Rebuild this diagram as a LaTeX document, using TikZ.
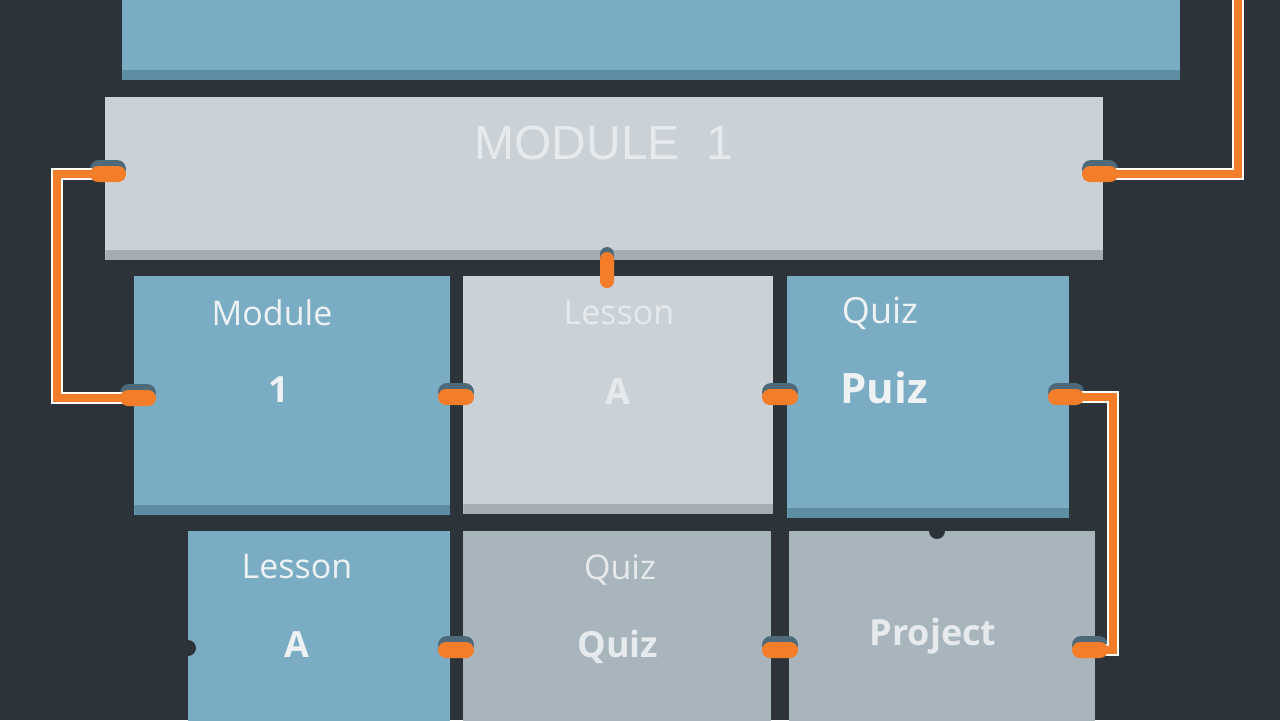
\documentclass[tikz,border=0pt]{standalone}
\usepackage{fontspec}
\setmainfont{Open Sans}
\newfontfamily\bannerfont{Liberation Sans}
\usepackage{tikz}
\usetikzlibrary{positioning, calc, shapes.misc}

\definecolor{bgdark}{HTML}{2C343A}
\definecolor{tileblue}{HTML}{7AADC3}
\definecolor{tileblueD}{HTML}{5C8DA3}
\definecolor{tilelight}{HTML}{CBD2D7}
\definecolor{tilelightD}{HTML}{A3ADB2}
\definecolor{tilemid}{HTML}{A9B5BC}
\definecolor{wireorange}{HTML}{F47D2A}
\definecolor{capslate}{HTML}{4E6A7A}
\definecolor{txtlight}{HTML}{EEF2F4}
\definecolor{txtfaint}{HTML}{E6EAED}

\tikzset{
  tile/.style 2 args={rectangle, inner sep=0pt, anchor=north west, fill=#1,
    path picture={\fill[#2] (path picture bounding box.south west)
      rectangle ([yshift=5pt]path picture bounding box.south east);}},
  lbl/.style={text=txtlight, inner sep=0pt, font=\fontsize{17}{20}\selectfont},
  big/.style={lbl, font=\bfseries\fontsize{18}{22}\selectfont},
  wire/.style={draw=white, line width=0.9pt, double=wireorange,
    double distance=3.8pt},
  pill/.style={rounded rectangle, fill=wireorange, inner sep=0pt,
    minimum width=18pt, minimum height=8pt},
  pillcap/.style={rounded rectangle, fill=capslate, inner sep=0pt,
    minimum width=18pt, minimum height=9pt},
  vpill/.style={rounded corners=3.5pt, fill=wireorange, inner sep=0pt,
    minimum width=7pt, minimum height=18pt},
  notch/.style={circle, fill=bgdark, inner sep=0pt, minimum size=8pt},
}

\begin{document}
\begin{tikzpicture}[x=0.5pt, y=-0.5pt]
    \useasboundingbox (0,0) rectangle (1280,720);
    \clip (0,0) rectangle (1280,720);
    \fill[bgdark] (0,0) rectangle (1280,720);

    % top band
    \node[tile={tileblue}{tileblueD}, minimum width=529pt, minimum height=50pt]
        (top) at (122,-20) {};

    % module banner
    \node[tile={tilelight}{tilelightD}, minimum width=499pt, minimum height=81.5pt]
        (banner) at (105,97) {};
    \node[text=txtfaint, font=\bannerfont\fontsize{24}{28}\selectfont]
        (bannerT) at (604,143) {MODULE\ \ 1};

    % ---------- first row
    \node[tile={tileblue}{tileblueD}, minimum width=158pt, minimum height=119.5pt]
        (mod) at (134,276) {};
    \node[lbl] (modT) at (272,313) {Module};
    \node[big] (modN) at (279,390) {1};

    \node[tile={tilelight}{tilelightD}, minimum width=155pt, minimum height=119pt]
        (lesA) at (463,276) {};
    \node[lbl, text=txtfaint] (lesAT) at (619,313) {Lesson};
    \node[big, text=txtfaint] (lesAN) at (618,392) {A};

    \node[tile={tileblue}{tileblueD}, minimum width=141pt, minimum height=121pt]
        (quiz) at (787,276) {};
    \node[lbl, font=\fontsize{18}{22}\selectfont] (quizT) at (880,313) {Quiz};
    \node[big, font=\bfseries\fontsize{21}{25}\selectfont] (quizN) at (884,388) {Puiz};

    % ---------- second row
    \node[tile={tileblue}{tileblueD}, minimum width=131pt, minimum height=105pt]
        (lesB) at (188,531) {};
    \node[lbl] (lesBT) at (297,567) {Lesson};
    \node[big] (lesBN) at (297,645) {A};

    \node[tile={tilemid}{tilemid}, minimum width=154pt, minimum height=105pt]
        (quizB) at (463,531) {};
    \node[lbl, text=txtfaint] (quizBT) at (620,570) {Quiz};
    \node[big, text=txtfaint] (quizBN) at (618,647) {Quiz};

    \node[tile={tilemid}{tilemid}, minimum width=153pt, minimum height=105pt]
        (proj) at (789,531) {};
    \node[big, text=txtfaint] (projT) at (933,636) {Project};

    % notches
    \node[notch] (nB) at (188,648) {};
    \node[notch] (nP) at (937,531) {};

    % ---------- connectors
    \coordinate (lft) at (57,0);
    \coordinate (rgt) at (1238,0);
    \coordinate (rgt2) at (1113,0);
    \coordinate (topR) at (1238,-10);

    \foreach \n/\p in {BL/{108,174}, BR/{1100,174}, ML/{138,398},
                       12/{456,397}, 23/{780,397}, QR/{1066,397},
                       45/{456,650}, 56/{780,650}, PR/{1090,650}} {
        \coordinate (c\n) at (\p);
        \node[pillcap] at ($(\p)+(0,-5)$) {};
    }

    \draw[wire] (cBL) -- (cBL -| lft) |- (cML);
    \draw[wire] (cBR) -- (cBR -| rgt) -- (topR);
    \draw[wire] (cQR) -- (cQR -| rgt2) |- (cPR);

    \foreach \n in {BL, BR, ML, 12, 23, QR, 45, 56, PR} {
        \node[pill] (p\n) at (c\n) {};
    }

    \node[vpill, fill=capslate] at (607,265) {};
    \node[vpill] (pMid) at (607,270) {};
\end{tikzpicture}
\end{document}
